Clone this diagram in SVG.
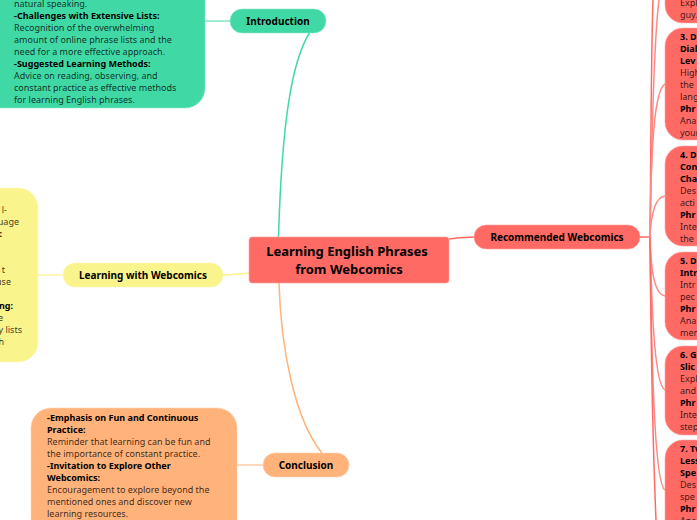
<svg xmlns="http://www.w3.org/2000/svg" width="697" height="520" viewBox="0 0 697 520">
<style>
text{font-family:"Noto Sans","DejaVu Sans",sans-serif;font-size:9px;fill:#000}
.b{font-weight:700}
.r{fill-opacity:.78}
.e{text-anchor:end}
.p{font-size:10px;font-weight:700;text-anchor:middle}
.t{font-size:13px;font-weight:700;text-anchor:middle}
.c{fill:none;stroke-width:1.5}
.g{fill:#40d8a5;stroke:#8ce8c9;stroke-width:.6}
.y{fill:#f9f48b;stroke:#fbf8b9;stroke-width:.6}
.o{fill:#ffb27a;stroke:#ffd2b3;stroke-width:.6}
.d{fill:#ff6a64;stroke:#ffa5a2;stroke-width:.6}
</style>
<g id="connectors">
<path class="c" stroke="#40d8a5" d="M310 32C292 60 282 120 278.5 237"/>
<path class="c" stroke="#ffb27a" d="M322 453C295 420 281 350 279 283"/>
<path class="c" stroke="#f9f48b" d="M223 275C232 275 240 274 249 273"/>
<path class="c" stroke="#ff6a64" d="M449 239C458 238 465 237 474 237"/>
<path fill="none" stroke="#9debd0" stroke-width="2" d="M205 21H230"/>
<path fill="none" stroke="#fbf8b9" stroke-width="2" d="M38 275H63"/>
<path fill="none" stroke="#ffd8bd" stroke-width="2" d="M237 465H263"/>
<path fill="none" stroke="#ff6a64" stroke-width="1.5" d="M640 237H650"/>
<path class="c" stroke="#ff6a64" d="M650 237C651 150 651 60 653 0"/>
<path class="c" stroke="#ff8a85" d="M650 237C652 130 654 40 659 0"/>
<path class="c" stroke="#ff8a85" d="M650 237C651 150 654 90 665 84"/>
<path class="c" stroke="#ff8a85" d="M650 237C651 215 655 197 665 196"/>
<path class="c" stroke="#ff8a85" d="M650 237C651 270 654 294 665 296"/>
<path class="c" stroke="#ff8a85" d="M650 237C652 320 655 385 665 390"/>
<path class="c" stroke="#ff8a85" d="M650 237C652 400 656 485 665 490"/>
<path class="c" stroke="#ff6a64" d="M650 237C651 350 653 450 656 520"/>
</g>
<g id="topic-intro-notes">
<rect class="g" x="-30" y="-60" width="235" height="168" rx="20"/>
<text x="14" y="7" class="r">natural speaking.</text>
<text x="14" y="19" class="b">-Challenges with Extensive Lists:</text>
<text x="14" y="31" class="r">Recognition of the overwhelming</text>
<text x="14" y="43" class="r">amount of online phrase lists and the</text>
<text x="14" y="55" class="r">need for a more effective approach.</text>
<text x="14" y="67" class="b">-Suggested Learning Methods:</text>
<text x="14" y="79" class="r">Advice on reading, observing, and</text>
<text x="14" y="91" class="r">constant practice as effective methods</text>
<text x="14" y="103" class="r">for learning English phrases.</text>
</g>
<g id="topic-intro">
<rect class="g" x="230" y="9" width="96" height="24" rx="12"/>
<text x="278" y="25" class="p">Introduction</text>
</g>
<g id="topic-learning-notes">
<rect class="y" x="-60" y="188" width="98" height="174" rx="20"/>
<text x="7" y="213" class="r e">l-</text>
<text x="19" y="225" class="r e">uage</text>
<text x="2" y="237" class="b e">:</text>
<text x="5" y="273" class="r e">t</text>
<text x="11" y="285" class="r e">use</text>
<text x="13" y="309" class="b e">ng:</text>
<text x="3" y="321" class="r e">e</text>
<text x="22" y="333" class="r e">y lists</text>
<text x="4" y="345" class="r e">h</text>
</g>
<g id="topic-learning">
<rect class="y" x="63" y="263" width="160" height="24" rx="12"/>
<text x="143" y="279" class="p">Learning with Webcomics</text>
</g>
<g id="topic-conclusion-notes">
<rect class="o" x="31" y="408" width="206" height="130" rx="20"/>
<text x="47" y="421" class="b">-Emphasis on Fun and Continuous</text>
<text x="47" y="433" class="b">Practice:</text>
<text x="47" y="445" class="r">Reminder that learning can be fun and</text>
<text x="47" y="457" class="r">the importance of constant practice.</text>
<text x="47" y="469" class="b">-Invitation to Explore Other</text>
<text x="47" y="481" class="b">Webcomics:</text>
<text x="47" y="493" class="r">Encouragement to explore beyond the</text>
<text x="47" y="505" class="r">mentioned ones and discover new</text>
<text x="47" y="517" class="r">learning resources.</text>
</g>
<g id="topic-conclusion">
<rect class="o" x="263" y="453" width="86" height="24" rx="12"/>
<text x="306" y="469" class="p">Conclusion</text>
</g>
<g id="central">
<rect class="d" x="249" y="237" width="200" height="46" rx="3"/>
<text x="347" y="256" class="t">Learning English Phrases</text>
<text x="349" y="274" class="t">from Webcomics</text>
</g>
<g id="topic-recommended">
<rect class="d" x="474" y="225" width="166" height="24" rx="12"/>
<text x="557" y="241" class="p">Recommended Webcomics</text>
</g>
<g id="webcomic-2">
<rect class="d" x="665" y="-60" width="80" height="83" rx="18"/>
<text x="680" y="6" class="r">Expl</text>
<text x="680" y="18" class="r">guy.</text>
</g>
<g id="webcomic-3">
<rect class="d" x="665" y="28" width="80" height="112" rx="18"/>
<text x="680" y="40" class="b">3. D</text>
<text x="680" y="52" class="b">Dial</text>
<text x="680" y="64" class="b">Lev</text>
<text x="680" y="76" class="r">High</text>
<text x="680" y="88" class="r">the</text>
<text x="680" y="100" class="r">lang</text>
<text x="680" y="112" class="b">Phr</text>
<text x="680" y="124" class="r">Ana</text>
<text x="680" y="136" class="r">your</text>
</g>
<g id="webcomic-4">
<rect class="d" x="665" y="146" width="80" height="100" rx="18"/>
<text x="680" y="158" class="b">4. D</text>
<text x="680" y="170" class="b">Con</text>
<text x="680" y="182" class="b">Cha</text>
<text x="680" y="194" class="r">Des</text>
<text x="680" y="206" class="r">acti</text>
<text x="680" y="218" class="b">Phr</text>
<text x="680" y="230" class="r">Inte</text>
<text x="680" y="242" class="r">the</text>
</g>
<g id="webcomic-5">
<rect class="d" x="665" y="252" width="80" height="88" rx="18"/>
<text x="680" y="264" class="b">5. D</text>
<text x="680" y="276" class="b">Intr</text>
<text x="680" y="288" class="r">Intr</text>
<text x="680" y="300" class="r">pec</text>
<text x="680" y="312" class="b">Phr</text>
<text x="680" y="324" class="r">Ana</text>
<text x="680" y="336" class="r">men</text>
</g>
<g id="webcomic-6">
<rect class="d" x="665" y="346" width="80" height="89" rx="18"/>
<text x="680" y="358" class="b">6. G</text>
<text x="680" y="370" class="b">Slic</text>
<text x="680" y="382" class="r">Expl</text>
<text x="680" y="394" class="r">and</text>
<text x="680" y="406" class="b">Phr</text>
<text x="680" y="418" class="r">Inte</text>
<text x="680" y="430" class="r">step</text>
</g>
<g id="webcomic-7">
<rect class="d" x="665" y="440" width="80" height="110" rx="18"/>
<text x="680" y="452" class="b">7. Tw</text>
<text x="680" y="464" class="b">Less</text>
<text x="680" y="476" class="b">Spe</text>
<text x="680" y="488" class="r">Des</text>
<text x="680" y="500" class="r">spe</text>
<text x="680" y="512" class="b">Phr</text>
<text x="680" y="524" class="r">Ana</text>
</g>
</svg>
